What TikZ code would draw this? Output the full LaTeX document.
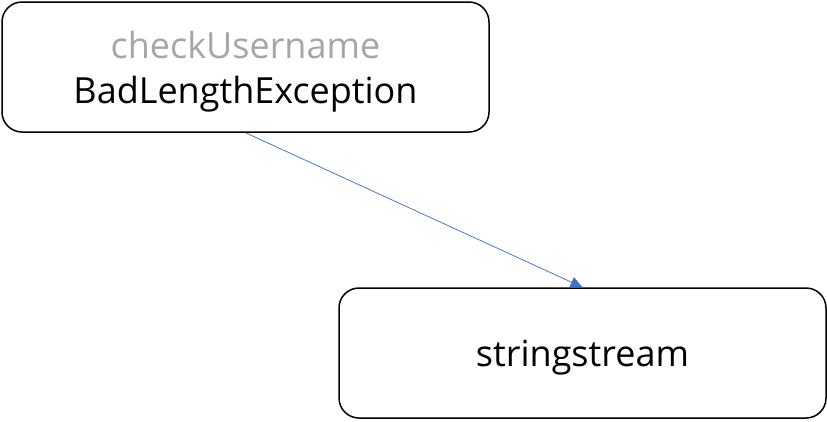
\documentclass[tikz,border=0pt]{standalone}
\usepackage{fontspec}
\setmainfont{Open Sans}
\usetikzlibrary{arrows.meta}
\definecolor{linkblue}{HTML}{4472C4}
\definecolor{labelgray}{HTML}{A6A6A6}
\tikzset{
	classbox/.style={draw=black, line width=1.5pt, rounded corners=20pt, minimum width=487pt, minimum height=130pt, align=center, text depth=-3pt, font=\fontsize{36}{45}\selectfont},
	uses/.style={draw=linkblue, line width=0.75pt, -{Triangle[length=12pt,width=11pt]}}
}

\begin{document}
\begin{tikzpicture}[x=1pt, y=-1pt]
			%%%%% START %%%%%
			\useasboundingbox (0, 0) rectangle (827, 421);
			
			\node[classbox] (badlength) at (245.5, 67) {\textcolor{labelgray}{checkUsername}\\BadLengthException};
			\node[classbox] (sstream) at (582.5, 353) {stringstream};
			
			\draw[uses] (badlength.south) -- (sstream.north);
			%%%%% END %%%%%
\end{tikzpicture}
\end{document}
